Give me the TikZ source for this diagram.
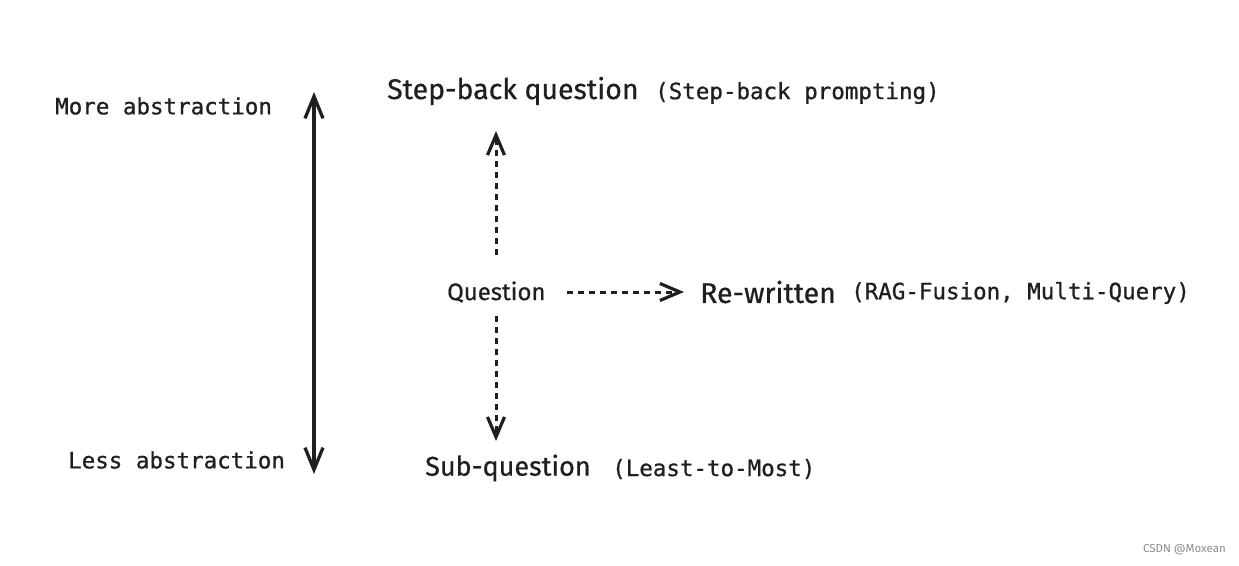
\documentclass[tikz,border=0pt]{standalone}
\usepackage{fontspec}
\setmainfont{Fira Sans}
\newfontfamily\monof[FakeBold=0.8]{DejaVu Sans Mono}
\newfontfamily\handf[FakeBold=0.6]{Fira Sans}
\usetikzlibrary{arrows.meta}
\tikzset{
  monolabel/.style={inner sep=0pt, anchor=west, font=\monof\fontsize{22.5}{26}\selectfont, text=black!88},
  handlabel/.style={inner sep=0pt, anchor=west, font=\handf\fontsize{28.5}{32}\selectfont, text=black!88},
  smallhand/.style={inner sep=0pt, anchor=west, font=\handf\fontsize{24}{28}\selectfont, text=black!88},
  solidarrow/.style={line width=3.5pt, black!88, {Straight Barb[length=22pt,width=18pt,line width=3.3pt]}-{Straight Barb[length=22pt,width=18pt,line width=3.3pt]}},
  dasharrow/.style={line width=3pt, black!88, dash pattern=on 6pt off 5pt, -{Straight Barb[length=20pt,width=17pt,line width=3.2pt]}},
  watermark/.style={inner sep=0pt, anchor=east, font=\fontsize{11.5}{13}\selectfont, text=black!45}
}
\begin{document}
\begin{tikzpicture}[x=1pt,y=-1pt]
\useasboundingbox[fill=white] (0,0) rectangle (1239,565);
% left scale
\node[monolabel] (more) at (55,106) {More abstraction};
\node[monolabel] (less) at (68,460) {Less abstraction};
\coordinate (scaletop) at (314,92);
\coordinate (scalebot) at (314,474);
\draw[solidarrow] (scalebot) -- (scaletop);
% top
\node[handlabel] (step) at (387,91) {Step-back question};
\node[monolabel] (stepp) at (655,93) {(Step-back prompting)};
% middle
\node[smallhand] (q) at (447,292) {Question};
\node[handlabel] (rw) at (700,292) {Re-written};
\node[monolabel] (rwp) at (851,293) {(RAG-Fusion, Multi-Query)};
% bottom
\node[handlabel, font=\handf\fontsize{27}{30}\selectfont] (sub) at (425,468) {Sub-question};
\node[monolabel] (subp) at (612,469) {(Least-to-Most)};
% connectors
\coordinate (qtop) at (496,255);
\coordinate (uptip) at (496,131);
\coordinate (qbot) at (496,316);
\coordinate (downtip) at (496,441);
\coordinate (qright) at (567,292);
\coordinate (righttip) at (684,292);
\draw[dasharrow] (qtop) -- (uptip);
\draw[dasharrow] (qbot) -- (downtip);
\draw[dasharrow] (qright) -- (righttip);
\node[watermark] (wm) at (1226,550) {CSDN @Moxean};
\end{tikzpicture}
\end{document}
